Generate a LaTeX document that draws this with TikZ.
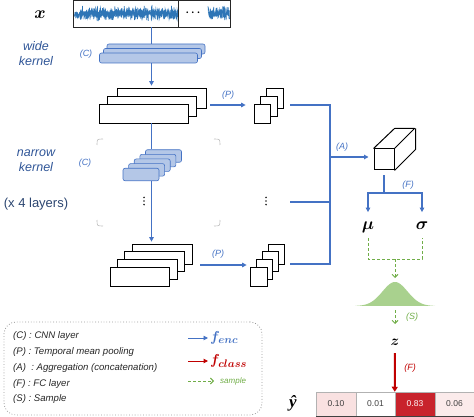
\documentclass[tikz,border=0pt]{standalone}
\usepackage{fontspec}
\usepackage{bm}
\usetikzlibrary{arrows.meta,calc}
\newfontfamily\arial{Liberation Sans}
\newfontfamily\tnr{Liberation Serif}
\definecolor{mblue}{HTML}{4472C4}
\definecolor{dblue}{HTML}{2F5597}
\definecolor{nblue}{HTML}{2B4570}
\definecolor{kfill}{HTML}{B4C7E7}
\definecolor{wblue}{HTML}{2E75B6}
\definecolor{mgreen}{HTML}{70AD47}
\definecolor{gfill}{HTML}{A9D18E}
\definecolor{mred}{HTML}{C00000}
\definecolor{cred}{HTML}{C8232C}
\definecolor{cpink}{HTML}{F9E1E1}
\definecolor{cpink2}{HTML}{FBEBEB}
\begin{document}
\begin{tikzpicture}[x=1pt,y=-1pt,
  kbox/.style={draw=mblue, fill=kfill, rounded corners=2pt, line width=0.6pt, inner sep=0pt},
  fmap/.style={draw=black, fill=white, line width=0.7pt, inner sep=0pt},
  bline/.style={draw=mblue, line width=1.1pt},
  barr/.style={draw=mblue, line width=1.1pt, -{Triangle[length=4.5pt,width=4.5pt]}},
  gdash/.style={draw=mgreen, line width=0.9pt, dash pattern=on 3pt off 2pt},
  garr/.style={gdash, -{Straight Barb[length=3pt,width=6pt]}},
  rarr/.style={draw=mred, line width=2pt, -{Triangle[length=5pt,width=6pt]}},
  lab/.style={font=\arial\itshape\fontsize{9}{10}\selectfont, text=mblue, inner sep=0pt},
  side/.style={font=\arial\itshape\fontsize{12.5}{15}\selectfont, text=dblue, align=center, inner sep=0pt},
  leg/.style={font=\arial\itshape\fontsize{9.6}{10}\selectfont, text=black!85, anchor=west, inner sep=0pt},
  cell/.style={minimum height=24pt, draw=gray!60, line width=0.5pt, inner sep=0pt, font=\arial\fontsize{8.5}{9}\selectfont, text=black!75},
  corner/.style={draw=gray!50, line width=0.6pt},
  mathl/.style={inner sep=0pt},
  dot/.style={fill=black!85, radius=0.9pt}
]
\useasboundingbox (0,0) rectangle (474,417);

% ---------- input signal ----------
\pgfmathsetseed{11}
\draw[wblue, line width=0.6pt] plot[domain=74.5:178.5, samples=420] (\x,{13.5+rand*(3+5*rnd)});
\draw[wblue, line width=0.6pt] plot[domain=74.5:178.5, samples=300] (\x,{13.5+rand*(2+8*rnd*rnd)});
\draw[wblue, line width=0.6pt] plot[domain=208:229.5, samples=90] (\x,{13.5+rand*(3+5*rnd)});
\draw[wblue, line width=0.6pt] plot[domain=208:229.5, samples=60] (\x,{13.5+rand*(2+7*rnd*rnd)});
\node[draw=black!85, line width=0.8pt, minimum width=157pt, minimum height=26.5pt, inner sep=0pt] (sig) at (151.5,13.8) {};
\draw[black!85, line width=0.8pt] ($(sig.north west)+(106,0)$) -- ($(sig.south west)+(106,0)$);
\node[font=\fontsize{11}{11}\selectfont] (sdots) at (193,13) {$\bm{\cdots}$};
\node[mathl, font=\fontsize{17}{17}\selectfont] (xl) at (40,15) {$\bm{x}$};

% ---------- wide kernel ----------
\node[side] (wtxt) at (36,54) {wide\\kernel};
\node[lab] (c1l) at (86,54) {(C)};
\node[kbox, minimum width=98pt, minimum height=10pt] (wk3) at (156,49) {};
\node[kbox, minimum width=98pt, minimum height=10pt] (wk2) at (152.5,53.5) {};
\node[kbox, minimum width=98pt, minimum height=10pt] (wk1) at (148.5,58) {};
\draw[bline] (sig.south) -- (sig.south |- wk3.north);

% ---------- feature maps 1 ----------
\node[fmap, minimum width=89pt, minimum height=20pt] (fm13) at (161.5,98) {};
\node[fmap, minimum width=89pt, minimum height=20pt] (fm12) at (152,106) {};
\node[fmap, minimum width=89pt, minimum height=19pt] (fm11) at (143.5,113.5) {};
\draw[barr, shorten >=2pt] (sig.south |- wk1.south) -- (sig.south |- fm13.north);

\node[fmap, minimum width=17pt, minimum height=20pt] (pl13) at (274.5,98) {};
\node[fmap, minimum width=17pt, minimum height=20pt] (pl12) at (268.5,106) {};
\node[fmap, minimum width=16pt, minimum height=19pt] (pl11) at (262,113.5) {};
\coordinate (p1a) at (210,105);
\draw[barr, shorten >=8pt] (p1a) -- (pl11.west |- p1a);
\node[lab] (p1l) at (228,95) {(P)};

% ---------- narrow kernel region ----------
\draw[corner] (97,145) .. controls (97,139) .. (103,139);
\draw[corner] (214,139) .. controls (220,139) .. (220,145);
\draw[corner] (97,220) .. controls (97,226) .. (103,226);
\draw[corner] (220,220) .. controls (220,226) .. (214,226);

\node[side] (ntxt) at (36,161) {narrow\\kernel};
\node[lab] (c2l) at (85,163) {(C)};
\node[font=\arial\fontsize{13}{15}\selectfont, text=nblue, inner sep=0pt] (layers) at (36,204) {(x 4 layers)};

\node[kbox, minimum width=36pt, minimum height=12.5pt] (nk5) at (163.5,156) {};
\node[kbox, minimum width=36pt, minimum height=12.5pt] (nk4) at (157.9,160.6) {};
\node[kbox, minimum width=36pt, minimum height=12.5pt] (nk3) at (152.2,165.2) {};
\node[kbox, minimum width=36pt, minimum height=12.5pt] (nk2) at (146.6,169.9) {};
\node[kbox, minimum width=36pt, minimum height=12.5pt] (nk1) at (141,174.5) {};
\draw[bline] (sig.south |- fm11.south) -- (sig.south |- nk5.north);

\coordinate (vd1) at (144,201);
\coordinate (vd2) at (266,201);
\foreach \d in {-3.6,0,3.6} {
  \fill[dot] ($(vd1)+(0,\d)$) circle;
  \fill[dot] ($(vd2)+(0,\d)$) circle;
}

% ---------- feature maps 2 ----------
\node[fmap, minimum width=60pt, minimum height=20pt] (fm24) at (162,254) {};
\node[fmap, minimum width=60pt, minimum height=20pt] (fm23) at (154.5,261.5) {};
\node[fmap, minimum width=60pt, minimum height=20pt] (fm22) at (147,269) {};
\node[fmap, minimum width=59pt, minimum height=19pt] (fm21) at (139.5,276.5) {};
\draw[barr, shorten >=2pt] (sig.south |- nk1.south) -- (sig.south |- fm24.north);

\node[fmap, minimum width=16pt, minimum height=20pt] (pl24) at (276,254) {};
\node[fmap, minimum width=16pt, minimum height=20pt] (pl23) at (270.2,261.5) {};
\node[fmap, minimum width=16pt, minimum height=20pt] (pl22) at (264.3,269) {};
\node[fmap, minimum width=17pt, minimum height=19pt] (pl21) at (258.5,276.5) {};
\coordinate (p2a) at (200,265);
\draw[barr, shorten >=3pt] (p2a) -- (pl21.west |- p2a);
\node[lab] (p2l) at (218,254) {(P)};

% ---------- aggregation ----------
\coordinate (o1) at (290,105);
\coordinate (o2) at (290,202);
\coordinate (o3) at (290,264);
\coordinate (aggT) at (330,105);
\coordinate (aggM) at (330,202);
\coordinate (aggB) at (330,264);
\coordinate (agg) at (330,157);
\draw[bline] (o1) -- (aggT) -- (aggB) -- (o3);
\draw[bline] (o2) -- (aggM);

\node[draw=black, line width=1pt, minimum width=20pt, minimum height=21pt, inner sep=0pt] (cube) at (384,159.5) {};
\draw[black, line width=1pt, line join=round] (cube.north west) -- ++(21,-20) -- ++(20,0) -- (cube.north east);
\draw[black, line width=1pt, line join=round] ($(cube.north east)+(21,-20)$) -- ++(0,21) -- (cube.south east);
\draw[barr, shorten >=5pt] (agg) -- (cube.west |- agg);
\node[lab] (al) at (342,147) {(A)};

% ---------- FC to mu, sigma ----------
\node[mathl, anchor=base, font=\fontsize{16}{16}\selectfont] (mu) at (368,229) {$\bm{\mu}$};
\node[mathl, anchor=base, font=\fontsize{16}{16}\selectfont] (sg) at (422,229) {$\bm{\sigma}$};
\coordinate (fs) at (384,193);
\draw[bline] ($(cube.south)+(0,5)$) -- (fs);
\draw[barr, shorten >=9pt] (fs) -| (mu.north);
\draw[barr, shorten >=9pt] (fs) -| (sg.north);
\node[lab] (fl) at (408,185) {(F)};

% ---------- sampling ----------
\coordinate (gmid) at (395,259);
\coordinate (gtop) at (395,278);
\draw[gdash] (368,238) |- (gmid) -| (422,238);
\draw[garr] (gmid) -- (gtop);
\fill[gfill] plot[domain=355:435, samples=80] (\x,{306-24*exp(-((\x-395)^2)/(2*12.5^2))}) -- cycle;
\coordinate (gbot) at (395,310);
\coordinate (zin) at (395,324);
\draw[garr] (gbot) -- (zin);
\node[lab, text=mgreen] (sl) at (412,317) {(S)};

\node[mathl, anchor=base, font=\fontsize{15}{15}\selectfont] (z) at (395,345) {$\bm{z}$};

% ---------- output ----------
\node[cell, minimum width=40pt, fill=cpink] (t1) at (336,404) {0.10};
\node[cell, minimum width=39pt, fill=white] (t2) at (375.5,404) {0.01};
\node[cell, minimum width=40pt, fill=cred, text=white!90!pink] (t3) at (415,404) {0.83};
\node[cell, minimum width=39pt, fill=cpink2] (t4) at (454.5,404) {0.06};
\draw[black!75, line width=1.5pt] (t1.south west) -- (t4.south east);
\draw[rarr, shorten <=8pt] (z.south) -- (t3.north west);
\node[lab, text=mred] (rfl) at (410,368) {(F)};
\node[mathl, font=\tnr\bfseries\itshape\fontsize{17}{17}\selectfont] (yhat) at (293,403) {ŷ};

% ---------- legend ----------
\node[draw=gray!80, dotted, line width=0.8pt, rounded corners=12pt, minimum width=258pt, minimum height=93pt, inner sep=0pt] (legend) at (133,368.5) {};
\node[leg] (lg1) at (13,336) {(C) : CNN layer};
\node[leg] (lg2) at (13,352) {(P) : Temporal mean pooling};
\node[leg] (lg3) at (13,368) {(A)\ \ : Aggregation (concatenation)};
\node[leg] (lg4) at (13,384) {(F) : FC layer};
\node[leg] (lg5) at (13,399) {(S) : Sample};

\node[anchor=west, mathl, font=\fontsize{15}{15}\selectfont, text=mblue] (fenc) at (210,338) {$\bm{f_{enc}}$};
\node[anchor=west, mathl, font=\fontsize{15}{15}\selectfont, text=mred] (fcls) at (210,361) {$\bm{f_{class}}$};
\node[anchor=west, inner sep=0pt, font=\arial\itshape\fontsize{8}{9}\selectfont, text=mgreen] (smp) at (220,381) {sample};
\coordinate (la1) at (188,338);
\coordinate (la2) at (188,361);
\coordinate (la3) at (188,381);
\draw[barr, line width=0.9pt, shorten >=2pt] (la1) -- (fenc.west |- la1);
\draw[draw=mred, line width=1pt, -{Triangle[length=4.5pt,width=4.5pt]}, shorten >=2pt] (la2) -- (fcls.west |- la2);
\draw[garr, shorten >=6pt] (la3) -- (smp.west |- la3);
\end{tikzpicture}
\end{document}
